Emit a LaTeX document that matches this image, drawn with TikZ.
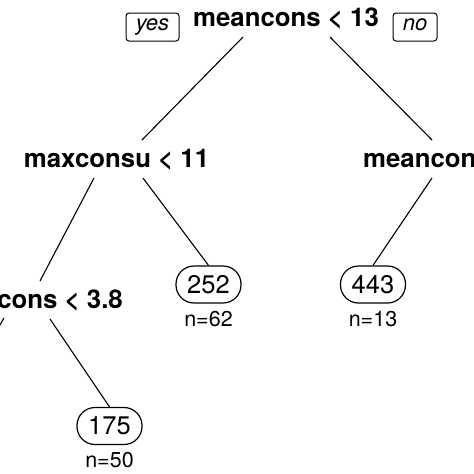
\documentclass[tikz,border=0pt]{standalone}
\usepackage{fontspec}
\setmainfont{TeX Gyre Heros}
\begin{document}
\begin{tikzpicture}[x=1pt,y=-1pt,
  split/.style={inner sep=0pt,font=\fontsize{25.8}{30}\selectfont\bfseries},
  leaf/.style={draw,line width=1.2pt,rounded corners=18pt,minimum width=65pt,minimum height=37pt,inner sep=0pt,font=\fontsize{25.5}{30}\selectfont},
  count/.style={inner sep=0pt,anchor=base,font=\fontsize{21.5}{26}\selectfont},
  tag/.style={draw,line width=1pt,rounded corners=3pt,minimum height=28pt,inner sep=0pt,text height=11.5pt,text depth=4.6pt,font=\fontsize{22}{26}\selectfont\itshape},
  branch/.style={line width=1.1pt}]
\useasboundingbox (0,0) rectangle (474,474);
\clip (0,0) rectangle (474,474);
\fill[white] (0,0) rectangle (474,474);

% split labels
\node[split,anchor=base] (root) at (286,26) {meancons < 13};
\node[split,anchor=base] (maxc) at (116.5,167) {maxconsu < 11};
\node[split,anchor=base west] (rmc) at (363,167) {meancons};
\node[split,anchor=base east] (cons) at (123,308) {cons < 3.8};

% yes / no tags
\node[tag,minimum width=53pt] (yes) at (152.5,27) {yes};
\node[tag,minimum width=44pt] (no) at (415,27) {no};

% leaves
\node[leaf] (l252) at (208.5,284.5) {252};
\node[leaf] (l443) at (373,284.5) {443};
\node[leaf] (l175) at (109.5,426) {175};
\node[count] (n62) at (208.5,326.5) {n=62};
\node[count] (n13) at (373,326.5) {n=13};
\node[count] (n50) at (109.5,467.5) {n=50};

\coordinate (offleaf) at (-55,420);

% branches
\draw[branch] ([shift={(-43,11)}]root.base) -- ([shift={(25.5,-27)}]maxc.base);
\draw[branch] ([shift={(44,11)}]root.base) -- ([shift={(69,-27)}]rmc.base west);
\draw[branch] ([shift={(-22.5,11)}]maxc.base) -- ([shift={(-83,-27)}]cons.base east);
\draw[branch] ([shift={(26.5,11)}]maxc.base) -- (l252.north);
\draw[branch] ([shift={(69,11)}]rmc.base west) -- (l443.north);
\draw[branch] ([shift={(-73,11)}]cons.base east) -- (l175.north);
\draw[branch] ([shift={(-119,10)}]cons.base east) -- (offleaf);
\end{tikzpicture}
\end{document}
